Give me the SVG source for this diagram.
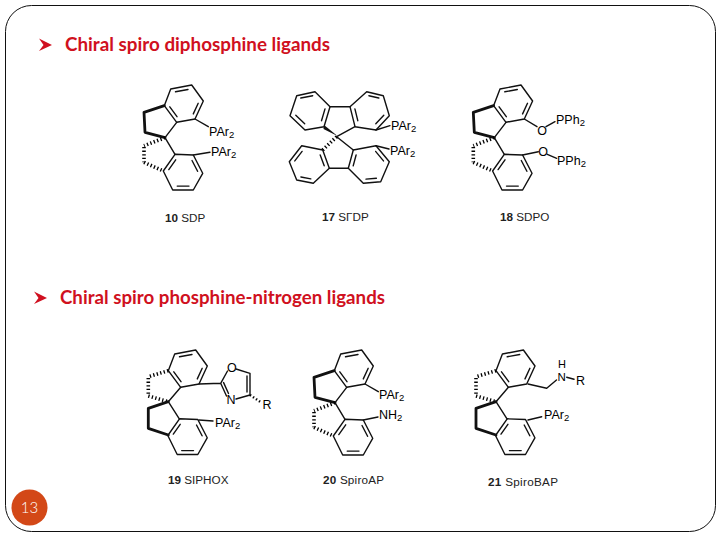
<svg xmlns="http://www.w3.org/2000/svg" xmlns:xlink="http://www.w3.org/1999/xlink" width="720" height="540" viewBox="0 0 720 540">
<style>
.b{fill:none;stroke:#111;stroke-width:1.4;stroke-linejoin:round;stroke-linecap:round}
.k{fill:none;stroke:#111;stroke-width:2.8;stroke-linejoin:round;stroke-linecap:round}
.h{fill:none;stroke:#000;stroke-width:3.6;stroke-dasharray:1.3 2.3}
.a{font-family:"Liberation Sans",Arial,sans-serif;font-size:12.5px;fill:#000}
.l{font-family:"Liberation Sans",Arial,sans-serif;font-size:11.7px;fill:#222}
.n{font-weight:bold}
.s{font-size:9.5px}
.t{font-family:Lato,"Liberation Sans",sans-serif;font-weight:bold;font-size:18.5px;fill:#d01020}
.m{fill:#d01020}
</style>
<defs>
<g id="ringU"><path class="b" d="M170.7 89L191.7 85L203.3 101L195 119L176.7 122.3L164.3 105.7Z"/><path class="b" d="M175.5 91.8L188 89.5M198.2 103.3L193.3 113.9M177 116.7L169.8 106.8"/></g>
<g id="ringL"><path class="b" d="M175 154.3L193.3 155L202.7 173.3L193.3 190L172.7 190L163.3 171Z"/><path class="b" d="M192 160.5L197.6 171.3M189 186.1L177.2 186.1M168.8 169.6L175.7 159.8"/></g>
<g id="coreA">
<use xlink:href="#ringU" href="#ringU"/><use xlink:href="#ringL" href="#ringL"/>
<path class="k" d="M164.3 105.7L144 112.3L145 132.3L165 137.7"/>
<path class="b" d="M176.7 122.3L165 137.7L175 154.3"/>
<path class="h" d="M165 137.7L144 145.7M144 147L144 162.3M144 162.3L163.3 171"/>
</g>
<g id="coreB">
<use xlink:href="#ringU" href="#ringU" x="4" y="265"/><use xlink:href="#ringL" href="#ringL" x="4.5" y="264.5"/>
<path class="h" d="M168.3 370.7L148.3 376.7M148.3 378L148.3 395M148.3 396L168.3 401.7"/>
<path class="k" d="M168.3 401.7L148.3 408.3L148.3 428.3L168.3 435"/>
<path class="b" d="M180.7 387.3L168.3 401.7L179.3 418.8"/>
</g>
</defs>
<rect width="720" height="540" fill="#fff"/>
<rect x="5.5" y="5.5" width="710" height="526" rx="26" fill="none" stroke="#111" stroke-width="1"/>
<g id="title1"><path class="m" d="M39 38.5L52 45L39 51L43.5 45Z"/><text class="t" x="65" y="51" textLength="265" lengthAdjust="spacingAndGlyphs">Chiral spiro diphosphine ligands</text></g>
<g id="title2"><path class="m" d="M34 291.5L47 298L34 304L38.5 298Z"/><text class="t" x="60" y="304" textLength="325" lengthAdjust="spacingAndGlyphs">Chiral spiro phosphine-nitrogen ligands</text></g>
<g id="connectors">
<use id="c10" xlink:href="#coreA" href="#coreA"/>
<path class="b" d="M195 119L208.3 126.7M193.3 155L210 152.3"/>
<use id="c18" xlink:href="#coreA" href="#coreA" x="329.3"/>
<path class="b" d="M524.3 119L537 126.7M546 126.7L555 121.7M522.6 155L538.3 151.7M547.3 154.3L556.7 158.3"/>
<use id="c20" xlink:href="#coreA" href="#coreA" x="170" y="265"/>
<path class="b" d="M365 384L378.3 391.7M363.3 420L378 417"/>
<use id="c19" xlink:href="#coreB" href="#coreB"/>
<path class="b" d="M199 384L220.7 383.3L227.5 371M236 369L250 373.3L250 395L236 399M226.5 396L220.7 383.3M223.6 382.6L228.5 393.5M247 376L247 392M199 420L213 421"/>
<path class="h" style="stroke-width:2.6" d="M250 395L262 403"/>
<use id="c21" xlink:href="#coreB" href="#coreB" x="327.7"/>
<path class="b" d="M528 384L546.7 388.3L556.5 380M566.7 377.3L574 379.3M528 420L541.7 416.7"/>
<g id="c17">
<path class="b" d="M330 106.7L315 91.7L296.7 95.7L290 115.7L305 130L324 126.7Z"/>
<path class="b" d="M312.7 95.7L300.8 98M295.8 115.3L304.7 123.8M321.5 120.7L325 108.9"/>
<path class="b" d="M350 106.7L366.7 91.7L383.3 95.7L389.3 115.7L376 130L355 126.7Z"/>
<path class="b" d="M368.9 95.7L378.8 98M383.8 115.3L375.8 123.8M357.8 120.7L354.9 108.9"/>
<path class="b" d="M353.3 150L376 145.7L389.3 161.7L380.7 181.7L363.3 183.3L348.3 168.3Z"/>
<path class="b" d="M375.6 151.4L383.5 160.9M376.4 178.2L366 179.1M353.2 165.9L356.1 155"/>
<path class="b" d="M322.7 150L301.7 145.7L289.3 161.7L296.7 180L313.3 183.3L329.3 168.3Z"/>
<path class="b" d="M302.1 151.4L294.8 160.9M300.9 177L310.8 178.9M324.2 165.8L320.2 155"/>
<path class="b" d="M330 106.7L350 106.7M329.3 168.3L348.3 168.3M355 126.7L336.7 136.7L353.3 150M376 130L390 125.7M376 145.7L389 149"/>
<path d="M324 125L337.5 136L323.5 129Z" fill="#111"/>
<path class="h" d="M336.7 136.7L322.7 150"/>
</g>
</g>
<g id="m10"><text class="a" x="209" y="136">PAr<tspan class="s" dy="2">2</tspan></text><text class="a" x="211" y="156">PAr<tspan class="s" dy="2">2</tspan></text><text class="l" x="165" y="222"><tspan class="n">10</tspan> SDP</text></g>
<g id="m17"><text class="a" x="391" y="130">PAr<tspan class="s" dy="2">2</tspan></text><text class="a" x="390" y="155">PAr<tspan class="s" dy="2">2</tspan></text><text class="l" x="322" y="221"><tspan class="n">17</tspan> SΓDP</text></g>
<g id="m18"><text class="a" x="537.2" y="134.5">O</text><text class="a" x="538.2" y="156">O</text><text class="a" x="556" y="124">PPh<tspan class="s" dy="2">2</tspan></text><text class="a" x="557" y="165">PPh<tspan class="s" dy="2">2</tspan></text><text class="l" x="500" y="221"><tspan class="n">18</tspan> SDPO</text></g>
<g id="m19"><text class="a" x="227" y="372">O</text><text class="a" x="226.5" y="404">N</text><text class="a" x="262.5" y="409">R</text><text class="a" x="215" y="427">PAr<tspan class="s" dy="2">2</tspan></text><text class="l" x="168" y="484"><tspan class="n">19</tspan> SIPHOX</text></g>
<g id="m20"><text class="a" x="379" y="399">PAr<tspan class="s" dy="2">2</tspan></text><text class="a" x="379" y="419">NH<tspan class="s" dy="2">2</tspan></text><text class="l" x="323" y="484" textLength="61"><tspan class="n">20</tspan> SpiroAP</text></g>
<g id="m21"><text x="558" y="367.5" class="a" style="font-size:11px">H</text><text class="a" x="557.5" y="381" style="font-size:11.5px">N</text><text class="a" x="576" y="385">R</text><text class="a" x="544" y="419">PAr<tspan class="s" dy="2">2</tspan></text><text class="l" x="488" y="486" textLength="70"><tspan class="n">21</tspan> SpiroBAP</text></g>
<g id="page"><circle cx="29.5" cy="507.5" r="18" fill="#d34817"/><text x="29.5" y="513" text-anchor="middle" font-family="Lato,'Liberation Sans',sans-serif" font-weight="300" font-size="15" fill="#fff">13</text></g>
</svg>
